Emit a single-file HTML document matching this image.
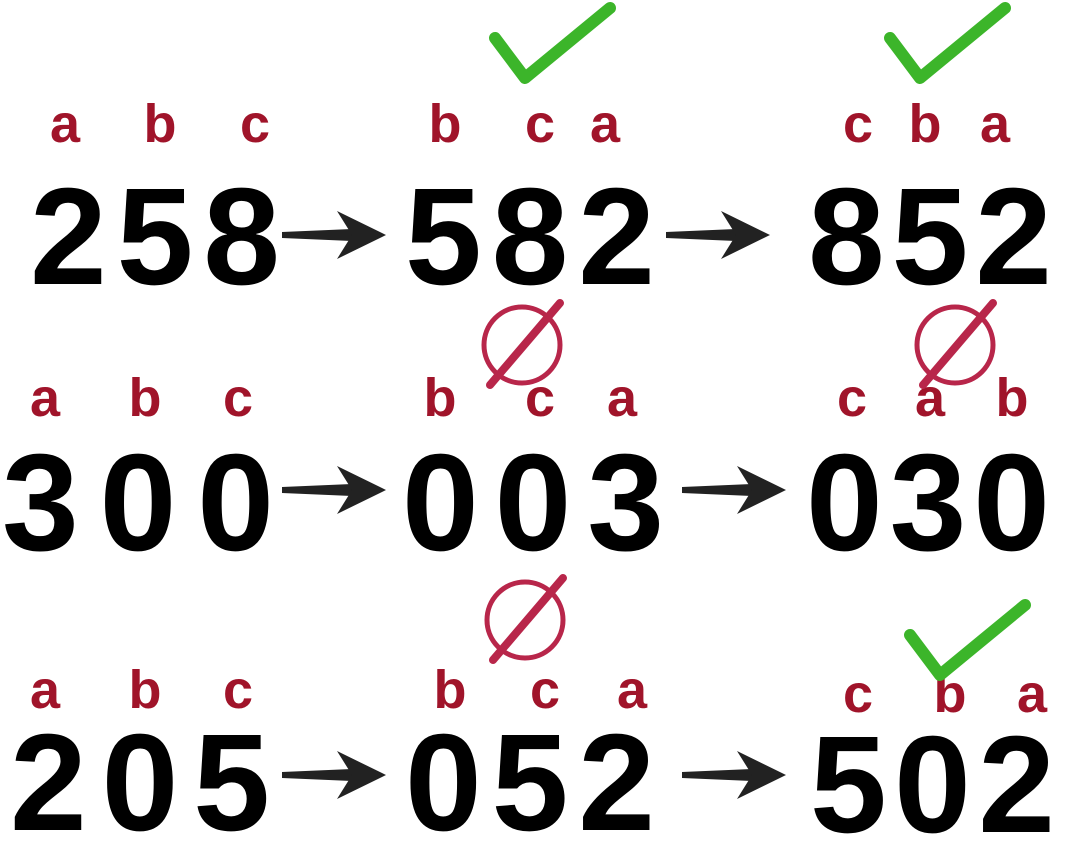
<!DOCTYPE html>
<html><head><style>
html,body{margin:0;padding:0;background:#fff;}
svg{display:block}
.d{font-family:"Liberation Sans",sans-serif;font-weight:bold;font-size:138px;fill:#000;}
.l{font-family:"Liberation Sans",sans-serif;font-weight:bold;font-size:54px;fill:#a0142a;text-anchor:middle;}
</style></head><body>
<svg width="1080" height="848" viewBox="0 0 1080 848" xmlns="http://www.w3.org/2000/svg">
<defs>
<g id="arr"><path d="M0,-3 L70,-6 L70,6 L0,3 Z" fill="#222"/><path d="M55,-24 L104,0 L55,24 L70,0 Z" fill="#222"/></g>
<g id="chk"><path d="M0,30 L30,70 L115,0" fill="none" stroke="#3cb52a" stroke-width="12" stroke-linecap="round" stroke-linejoin="round"/></g>
<g id="nul"><circle cx="0" cy="0" r="38" fill="none" stroke="#b8264a" stroke-width="5"/><path d="M-32,40 L38,-42" stroke="#b8264a" stroke-width="8" stroke-linecap="round"/></g>
</defs>
<!-- row1 -->
<text class="l" x="65" y="142">a</text><text class="l" x="160" y="142">b</text><text class="l" x="255" y="142">c</text>
<text class="l" x="445" y="142">b</text><text class="l" x="540" y="142">c</text><text class="l" x="605" y="142">a</text>
<text class="l" x="858" y="142">c</text><text class="l" x="925" y="142">b</text><text class="l" x="995" y="142">a</text>
<text class="d" x="30" y="284" textLength="250">258</text>
<text class="d" x="405" y="284" textLength="250">582</text>
<text class="d" x="808" y="284" textLength="244">852</text>
<use href="#arr" x="282" y="235"/><use href="#arr" x="666" y="235"/>
<use href="#chk" x="495" y="8"/><use href="#chk" x="890" y="8"/>
<!-- row2 -->
<text class="l" x="45" y="416">a</text><text class="l" x="145" y="416">b</text><text class="l" x="238" y="416">c</text>
<text class="l" x="440" y="416">b</text><text class="l" x="540" y="416">c</text><text class="l" x="622" y="416">a</text>
<text class="l" x="852" y="416">c</text><text class="l" x="930" y="416">a</text><text class="l" x="1012" y="416">b</text>
<text class="d" x="2" y="550" textLength="272">300</text>
<text class="d" x="402" y="550" textLength="262">003</text>
<text class="d" x="806" y="550" textLength="244">030</text>
<use href="#arr" x="282" y="490"/><use href="#arr" x="682" y="490"/>
<use href="#nul" x="522" y="345"/><use href="#nul" x="955" y="345"/>
<!-- row3 -->
<text class="l" x="45" y="708">a</text><text class="l" x="145" y="708">b</text><text class="l" x="238" y="708">c</text>
<text class="l" x="450" y="708">b</text><text class="l" x="545" y="708">c</text><text class="l" x="632" y="708">a</text>
<text class="l" x="858" y="712">c</text><text class="l" x="950" y="712">b</text><text class="l" x="1032" y="712">a</text>
<text class="d" x="10" y="830" textLength="260">205</text>
<text class="d" x="405" y="830" textLength="250">052</text>
<text class="d" x="810" y="832" textLength="245">502</text>
<use href="#arr" x="282" y="775"/><use href="#arr" x="682" y="775"/>
<use href="#nul" x="525" y="620"/>
<use href="#chk" x="910" y="605"/>
</svg>
</body></html>
